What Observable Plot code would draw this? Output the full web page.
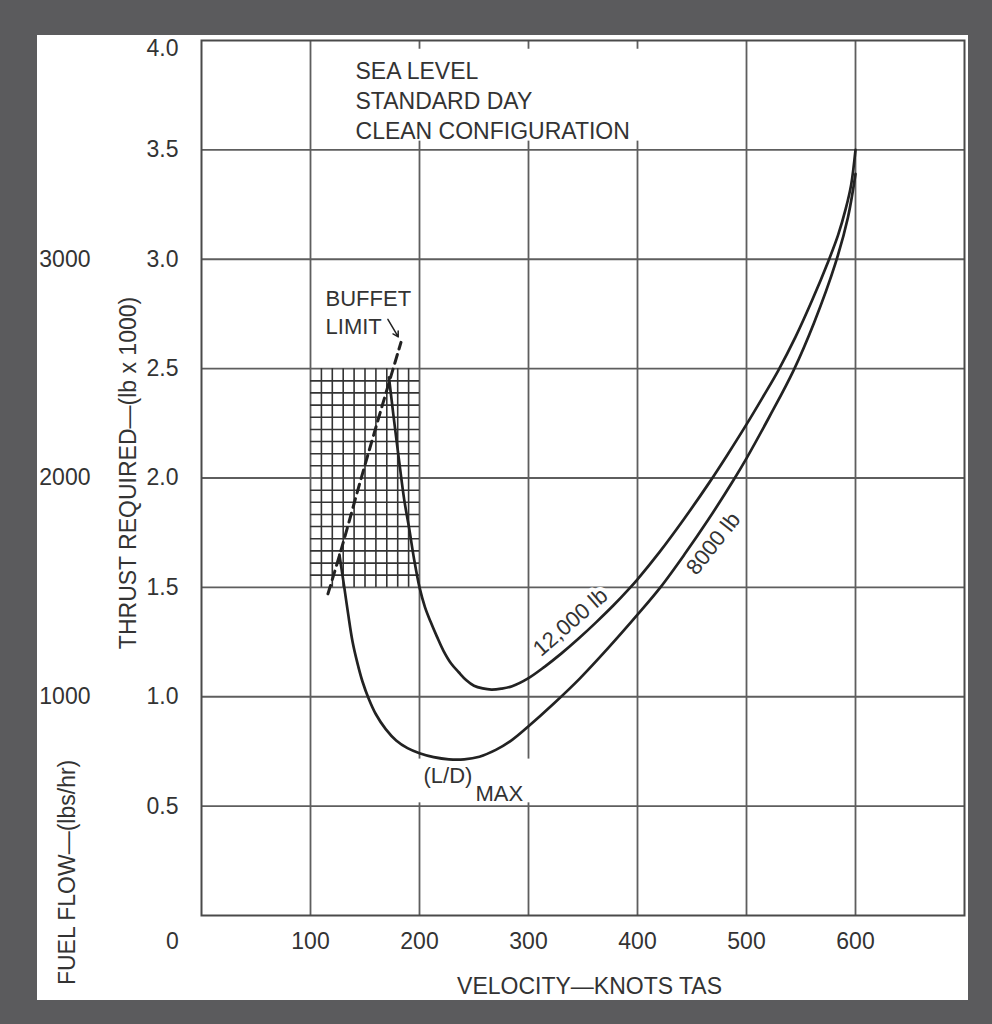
<!DOCTYPE html>
<html>
<head>
<meta charset="utf-8">
<script src="https://cdn.jsdelivr.net/npm/d3@7"></script>
<script src="https://cdn.jsdelivr.net/npm/@observablehq/plot@0.6"></script>
<style>
  html, body { margin: 0; padding: 0; background: #5b5b5d; }
  #panel { position: absolute; left: 37px; top: 35px; width: 931px; height: 965px; background: #ffffff; }
  #chart { position: absolute; left: 0; top: 0; width: 992px; height: 1024px; }
</style>
</head>
<body>
<div id="panel"></div>
<div id="chart"></div>
<script>
// ---- Data ----
const xTicks = [100, 200, 300, 400, 500, 600];
const yTicks = [0.5, 1.0, 1.5, 2.0, 2.5, 3.0, 3.5];
const yTopTick = [4.0];
const gridXValues = [100, 200, 300, 400, 500, 600];
const gridYValues = [0.5, 1.0, 1.5, 2.0, 2.5, 3.0, 3.5];
const fuelTicks = [1, 2, 3];
const fuelLabels = ["1000", "2000", "3000"];

// 12,000 lb thrust-required curve (knots TAS, thrust x 1000 lb)
const speed12000 = [172, 176, 181, 186, 190.5, 195, 200, 205, 210, 216, 222, 229, 236, 243, 250, 258, 266, 275, 285,
                    300, 315, 330, 346, 362, 378, 392, 400, 420, 443, 466, 483, 500, 515, 529, 545, 560, 575, 584, 591, 596, 600];
const thrust12000 = [2.46, 2.29, 2.09, 1.90, 1.77, 1.63, 1.50, 1.41, 1.345, 1.275, 1.21, 1.152, 1.112, 1.075, 1.05, 1.038, 1.033, 1.037, 1.048,
                     1.085, 1.138, 1.197, 1.266, 1.34, 1.418, 1.492, 1.537, 1.66, 1.815, 1.98, 2.11, 2.245, 2.37, 2.49, 2.645, 2.81, 2.99, 3.11, 3.23, 3.34, 3.5];

// 8000 lb thrust-required curve
const speed8000 = [126.5, 131, 134.5, 138.5, 143, 147.6, 153.5, 160, 169, 178.6, 189, 200, 213, 227, 241, 255, 270, 285,
                   300, 323, 347, 373, 400, 421, 443, 465, 488, 500, 521, 543, 562, 581.5, 593, 600];
const thrust8000 = [1.65, 1.50, 1.38, 1.254, 1.155, 1.071, 0.99, 0.92, 0.852, 0.80, 0.765, 0.742, 0.724, 0.714, 0.714, 0.726, 0.757, 0.803,
                    0.865, 0.968, 1.083, 1.222, 1.375, 1.5, 1.65, 1.81, 1.99, 2.09, 2.28, 2.49, 2.71, 2.98, 3.19, 3.39];

// Buffet limit (dashed)
const buffetSpeed = [116, 128, 146, 164, 183];
const buffetThrust = [1.47, 1.67, 1.99, 2.30, 2.62];

// Cross-hatched region (100-200 kt, 1.5-2.5)
const hatchX = [110, 120, 130, 140, 150, 160, 170, 180, 190];
const hatchY = [1.556, 1.611, 1.667, 1.722, 1.778, 1.833, 1.889, 1.944,
                2.056, 2.111, 2.167, 2.222, 2.278, 2.333, 2.389, 2.444];

// ---- Build tables ----
const curve12000 = speed12000.map((s, i) => ({s, t: thrust12000[i]}));
const curve8000 = speed8000.map((s, i) => ({s, t: thrust8000[i]}));
const buffet = buffetSpeed.map((s, i) => ({s, t: buffetThrust[i]}));

const ink = "#222";
const gridInk = "#5e5e5e";
const textInk = "#333";
const font = "'Liberation Sans', Arial, Helvetica, sans-serif";
const fs = 23;

const chart = Plot.plot({
  width: 992,
  height: 1024,
  marginLeft: 201,
  marginRight: 28,
  marginTop: 40,
  marginBottom: 109,
  x: {domain: [0, 700]},
  y: {domain: [0, 4]},
  style: {background: "transparent", fontFamily: font, color: textInk, overflow: "visible"},
  marks: [
    // main grid
    Plot.ruleX(gridXValues, {stroke: gridInk, strokeWidth: 1.8}),
    Plot.ruleY(gridYValues, {stroke: gridInk, strokeWidth: 1.8}),
    // hatch
    Plot.ruleX(hatchX, {y1: 1.5, y2: 2.5, stroke: "#333", strokeWidth: 1.6}),
    Plot.ruleY(hatchY, {x1: 100, x2: 200, stroke: "#333", strokeWidth: 1.6}),
    // white boxes behind notes
    Plot.rect([{x1: 125, x2: 470, y1: 3.54, y2: 3.96}, {x1: 195, x2: 305, y1: 0.515, y2: 0.715}],
      {x1: "x1", x2: "x2", y1: "y1", y2: "y2", fill: "white"}),
    Plot.frame({stroke: "#4a4a4a", strokeWidth: 2}),
    // axes
    Plot.axisX(xTicks, {tickSize: 0, tickPadding: 17, fontSize: fs, label: null, fill: textInk}),
    Plot.axisY(yTicks, {tickSize: 0, tickPadding: 23, fontSize: fs, label: null, tickFormat: d3.format(".1f"), fill: textInk}),
    Plot.axisY(yTopTick, {tickSize: 0, tickPadding: 23, fontSize: fs, label: null, tickFormat: d3.format(".1f"), fill: textInk, dy: 8}),
    Plot.axisY(fuelTicks, {tickSize: 0, tickPadding: 111, fontSize: fs, label: null, tickFormat: (d) => fuelLabels[fuelTicks.indexOf(d)], fill: textInk}),
    Plot.text(["0"], {x: 0, y: 0, dx: -29, dy: 26, fontSize: fs, fill: textInk, lineAnchor: "middle"}),
    // axis titles
    Plot.text(["VELOCITY—KNOTS TAS"], {x: 356, y: 0, dy: 71, fontSize: fs, fill: textInk}),
    Plot.text(["THRUST REQUIRED—(lb x 1000)"], {frameAnchor: "left", y: 2.023, dx: -73, rotate: -90, textAnchor: "middle", fontSize: fs, fill: textInk}),
    Plot.text(["FUEL FLOW—(lbs/hr)"], {frameAnchor: "left", y: 0.197, dx: -134, rotate: -90, textAnchor: "middle", fontSize: fs, fill: textInk}),
    // notes
    Plot.text(["SEA LEVEL\nSTANDARD DAY\nCLEAN CONFIGURATION"], {x: 141.3, y: 3.922, textAnchor: "start", lineAnchor: "top", lineHeight: 1.3, fontSize: fs, fill: textInk}),
    Plot.text(["BUFFET\nLIMIT"], {x: 113.8, y: 2.88, textAnchor: "start", lineAnchor: "top", lineHeight: 1.3, fontSize: fs - 1, fill: textInk}),
    Plot.arrow([{x1: 171, y1: 2.725, x2: 180.5, y2: 2.645}], {x1: "x1", y1: "y1", x2: "x2", y2: "y2", stroke: ink, strokeWidth: 1.5, headLength: 6}),
    Plot.text(["(L/D)"], {x: 203.7, y: 0.677, textAnchor: "start", lineAnchor: "top", fontSize: fs - 1, fill: textInk}),
    Plot.text(["MAX"], {x: 251.4, y: 0.594, textAnchor: "start", lineAnchor: "top", fontSize: fs - 1, fill: textInk}),
    // curve labels with halo
    Plot.text(["12,000 lb"], {x: 338.5, y: 1.341, rotate: -41, fontSize: fs - 1, fill: textInk, stroke: "white", strokeWidth: 8, paintOrder: "stroke", strokeLinejoin: "round"}),
    Plot.text(["8000 lb"], {x: 469.7, y: 1.70, rotate: -51.5, fontSize: fs - 1, fill: textInk, stroke: "white", strokeWidth: 8, paintOrder: "stroke", strokeLinejoin: "round"}),
    // curves
    Plot.line(buffet, {x: "s", y: "t", stroke: ink, strokeWidth: 3, strokeDasharray: "9,6", curve: "catmull-rom"}),
    Plot.line(curve12000, {x: "s", y: "t", stroke: ink, strokeWidth: 2.7, curve: "catmull-rom"}),
    Plot.line(curve8000, {x: "s", y: "t", stroke: ink, strokeWidth: 2.7, curve: "catmull-rom"})
  ]
});
document.getElementById("chart").appendChild(chart);
</script>
</body>
</html>
